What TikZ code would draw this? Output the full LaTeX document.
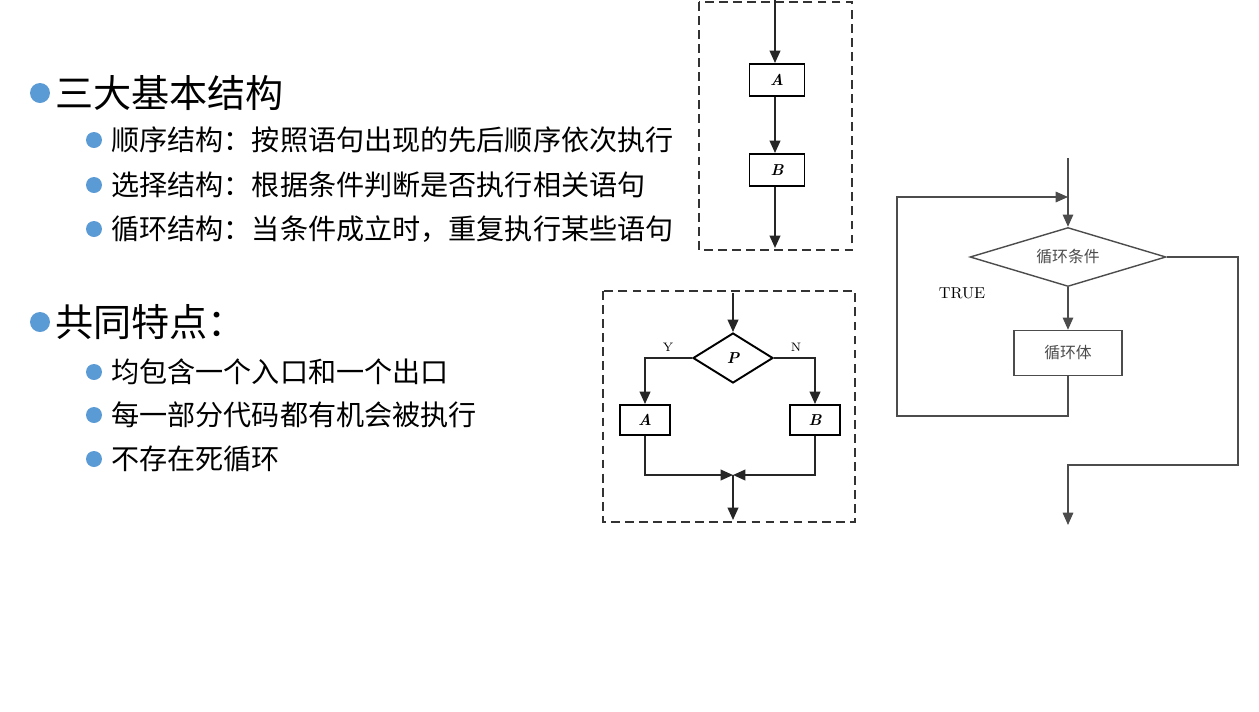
\documentclass[tikz,border=0pt]{standalone}
\usepackage{fontspec}
\newfontfamily\cjk{Noto Sans CJK SC}
\usetikzlibrary{shapes.geometric,arrows.meta}
\definecolor{bul}{HTML}{5B9BD5}
\tikzset{
  ln/.style={line width=1.1pt,black!85},
  arr/.style={ln,-{Triangle[length=7pt,width=6pt]}},
  boxn/.style={draw,line width=1.1pt,minimum width=1.1cm,minimum height=0.64cm,font=\bfseries\itshape\small,inner sep=0pt},
  dbox/.style={draw,dashed,line width=1.4pt,black!80,dash pattern=on 5pt off 3pt},
  big/.style={font=\cjk\fontsize{21.7}{26}\selectfont,anchor=west,inner sep=0pt},
  sub/.style={font=\cjk\fontsize{16}{19}\selectfont,anchor=west,inner sep=0pt},
  lbox/.style={draw,thin,black!70,minimum width=2.16cm,minimum height=0.9cm,font=\cjk\small,inner sep=0pt},
  thin/.style={line width=0.8pt,black!70},
  tarr/.style={thin,-{Triangle[length=7pt,width=6pt]}}
}
\begin{document}
\begin{tikzpicture}[x=0.02cm,y=-0.02cm]
\useasboundingbox (0,0) rectangle (1259,711);
% text
\fill[bul] (40,93) circle (10);
\node[big] (t1) at (55,93) {三大基本结构};
\foreach \y/\t in {140/顺序结构：按照语句出现的先后顺序依次执行,185/选择结构：根据条件判断是否执行相关语句,229/循环结构：当条件成立时，重复执行某些语句,372/均包含一个入口和一个出口,415/每一部分代码都有机会被执行,459/不存在死循环}{
  \fill[bul] (94,\y) circle (8);
  \node[sub] at (111,\y) {\t};
}
\fill[bul] (40,322) circle (10);
\node[big] (t2) at (55,322) {共同特点：};
% sequence
\draw[dbox] (699,2) rectangle (852,250);
\coordinate (s0) at (775,0);
\node[boxn] (sa) at (777,80) {A};
\node[boxn] (sb) at (777,170) {B};
\coordinate (s1) at (775,248);
\draw[arr] (s0) -- (sa.north -| s0);
\draw[arr] (sa.south -| s0) -- (sb.north -| s0);
\draw[arr] (sb.south -| s0) -- (s1);
% selection
\draw[dbox] (603,291) rectangle (855,522);
\node[draw,diamond,aspect=1.6,line width=1.1pt,minimum width=1.6cm,minimum height=1cm,inner sep=0pt,font=\bfseries\itshape\small] (p) at (733,358) {P};
\coordinate (p0) at (733,293);
\draw[arr] (p0) -- (p.north);
\node[font=\scriptsize] at (668,347) {Y};
\node[font=\scriptsize] at (796,347) {N};
\node[boxn,minimum width=1cm,minimum height=0.6cm] (ca) at (645,420) {A};
\node[boxn,minimum width=1cm,minimum height=0.6cm] (cb) at (815,420) {B};
\draw[arr] (p.west) -| (ca.north);
\draw[arr] (p.east) -| (cb.north);
\coordinate (m) at (733,475);
\coordinate (e) at (733,520);
\draw[arr] (ca.south) |- (m);
\draw[arr] (cb.south) |- (m);
\draw[arr] (m) -- (e);
% loop
\coordinate (l0) at (1068,158);
\coordinate (lj) at (1068,197);
\node[draw,diamond,aspect=3.3,thin,minimum width=3.92cm,minimum height=1.18cm,inner sep=0pt,font=\cjk\small] (lc) at (1068,257) {循环条件};
\node[lbox] (lb) at (1068,353) {循环体};
\node[font=\small] at (962,293) {TRUE};
\draw[thin] (l0) -- (lj);
\draw[tarr] (lj) -- (lc.north);
\draw[tarr] (lc.south) -- (lb.north);
\draw[tarr] (lb.south) -- (1068,416) -- (897,416) -- (897,197) -- (lj);
\coordinate (lx) at (1068,525);
\draw[tarr] (lc.east) -- (1238,257) -- (1238,465) -- (1068,465) -- (lx);
\end{tikzpicture}
\end{document}
